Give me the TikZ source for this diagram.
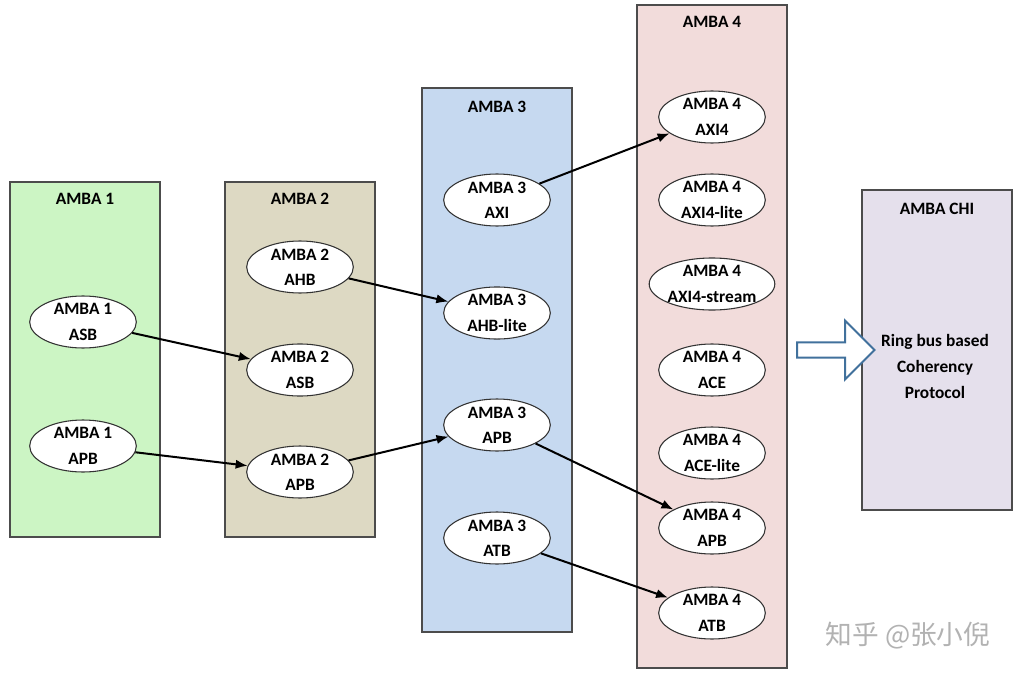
\documentclass[tikz,border=0pt]{standalone}
\usepackage{fontspec}
\setmainfont{Carlito}
\newfontfamily\cjk{Noto Sans CJK SC}
\usetikzlibrary{shapes.arrows,shapes.geometric,arrows.meta}
\definecolor{g1}{HTML}{CCF5C4}
\definecolor{g2}{HTML}{DDD9C3}
\definecolor{g3}{HTML}{C6D9F0}
\definecolor{g4}{HTML}{F2DCDB}
\definecolor{g5}{HTML}{E5E0EC}
\definecolor{bl}{HTML}{41719C}
\begin{document}
\begin{tikzpicture}[x=0.75pt,y=-0.75pt,
  box/.style={draw=black!70,line width=0.8pt},
  ttl/.style={font=\bfseries\fontsize{13}{15}\selectfont},
  el/.style={ellipse,draw=black!80,fill=white,line width=0.8pt,minimum width=80pt,minimum height=39pt,inner sep=0pt,align=center,font=\bfseries\fontsize{13}{19}\selectfont},
  ar/.style={-{Latex[length=9pt,width=7pt]},line width=1.5pt}]
\useasboundingbox (0,0) rectangle (1031,681);
\fill[white] (0,0) rectangle (1031,681);
\draw[box,fill=g1] (10,182) rectangle (160,537);
\draw[box,fill=g2] (225,182) rectangle (375,537);
\draw[box,fill=g3] (422,88) rectangle (572,632);
\draw[box,fill=g4] (637,5) rectangle (787,668);
\draw[box,fill=g5] (862,190) rectangle (1012,510);
\node[ttl] (t1) at (85,199) {AMBA 1};
\node[ttl] (t2) at (300,199) {AMBA 2};
\node[ttl] (t3) at (497,107) {AMBA 3};
\node[ttl] (t4) at (712,22) {AMBA 4};
\node[ttl] (t5) at (937,209) {AMBA CHI};
\node[ttl,align=center,font=\bfseries\fontsize{13}{19.5}\selectfont] (chi) at (935,366) {Ring bus based\\Coherency\\Protocol};
\node[el] (a1s) at (83,322) {AMBA 1\\ASB};
\node[el] (a1p) at (83,446) {AMBA 1\\APB};
\node[el] (a2h) at (300,267) {AMBA 2\\AHB};
\node[el] (a2s) at (300,370) {AMBA 2\\ASB};
\node[el] (a2p) at (300,472) {AMBA 2\\APB};
\node[el] (a3x) at (497,200) {AMBA 3\\AXI};
\node[el] (a3h) at (497,313) {AMBA 3\\AHB-lite};
\node[el] (a3p) at (497,425) {AMBA 3\\APB};
\node[el] (a3t) at (497,538) {AMBA 3\\ATB};
\node[el] (a4x) at (712,117) {AMBA 4\\AXI4};
\node[el] (a4l) at (712,200) {AMBA 4\\AXI4-lite};
\node[el,minimum width=86pt] (a4s) at (712,284) {AMBA 4\\AXI4-stream};
\node[el] (a4c) at (712,370) {AMBA 4\\ACE};
\node[el] (a4e) at (712,453) {AMBA 4\\ACE-lite};
\node[el] (a4p) at (712,528) {AMBA 4\\APB};
\node[el] (a4t) at (712,613) {AMBA 4\\ATB};
\draw[ar] (a1s) -- (a2s);
\draw[ar] (a1p) -- (a2p);
\draw[ar] (a2h) -- (a3h);
\draw[ar] (a2p) -- (a3p);
\draw[ar] (a3x) -- (a4x);
\draw[ar] (a3p) -- (a4p);
\draw[ar] (a3t) -- (a4t);
\node[single arrow,draw=bl,fill=white,line width=1.5pt,minimum height=58pt,minimum width=44pt,single arrow head extend=5pt,inner sep=1pt] (big) at (832,350) {};
\node[font=\cjk\fontsize{20}{22}\selectfont,text=black!30] (wm) at (908,636) {知乎 @张小倪};
\end{tikzpicture}
\end{document}
